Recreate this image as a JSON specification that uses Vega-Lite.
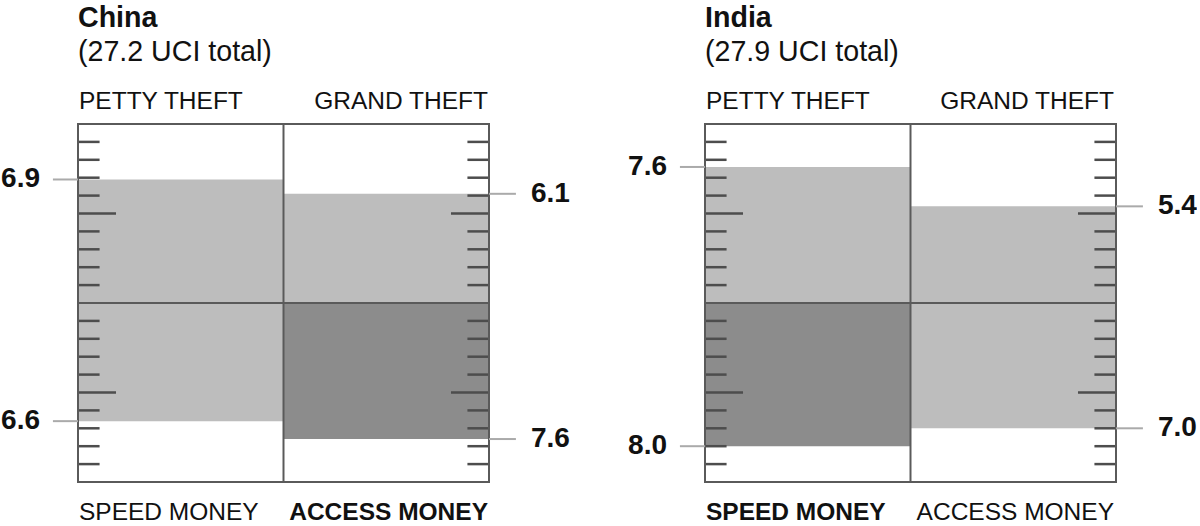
{
  "$schema": "https://vega.github.io/schema/vega-lite/v6.json",
  "background": "white",
  "padding": {"left": 1, "top": 3, "right": 0, "bottom": 0},
  "columns": 2,
  "spacing": {"row": 0, "column": 216},
  "bounds": "flush",
  "config": {
    "view": {"stroke": null},
    "axis": {"disable": true},
    "font": "Liberation Sans",
    "text": {"font": "Liberation Sans", "color": "#111111"},
    "title": {"anchor": "start", "frame": "group", "font": "Liberation Sans", "fontSize": 28.6, "fontWeight": "bold", "color": "#111111", "subtitleFont": "Liberation Sans", "subtitleFontSize": 28.6, "subtitleFontWeight": "normal", "subtitleColor": "#111111", "subtitlePadding": 6, "offset": 22}
  },
  "datasets": {
    "bars": [
      {"country": "China", "quadrant": "PETTY THEFT", "half": "top", "side": "left", "value": 6.9, "focus": false},
      {"country": "China", "quadrant": "GRAND THEFT", "half": "top", "side": "right", "value": 6.1, "focus": false},
      {"country": "China", "quadrant": "SPEED MONEY", "half": "bottom", "side": "left", "value": 6.6, "focus": false},
      {"country": "China", "quadrant": "ACCESS MONEY", "half": "bottom", "side": "right", "value": 7.6, "focus": true},
      {"country": "India", "quadrant": "PETTY THEFT", "half": "top", "side": "left", "value": 7.6, "focus": false},
      {"country": "India", "quadrant": "GRAND THEFT", "half": "top", "side": "right", "value": 5.4, "focus": false},
      {"country": "India", "quadrant": "SPEED MONEY", "half": "bottom", "side": "left", "value": 8.0, "focus": true},
      {"country": "India", "quadrant": "ACCESS MONEY", "half": "bottom", "side": "right", "value": 7.0, "focus": false}
    ],
    "ticks": [
      {"t": 1, "kind": "minor"}, {"t": 2, "kind": "minor"}, {"t": 3, "kind": "minor"}, {"t": 4, "kind": "minor"},
      {"t": 5, "kind": "major"},
      {"t": 6, "kind": "minor"}, {"t": 7, "kind": "minor"}, {"t": 8, "kind": "minor"}, {"t": 9, "kind": "minor"}
    ],
    "frame": [{}]
  },
  "concat": [
    {
      "width": 411, "height": 179,
      "title": {"text": "China", "subtitle": "(27.2 UCI total)"},
      "layer": [
        {"data": {"name": "bars"}, "transform": [{"filter": "datum.country === 'China' && datum.half === 'top' && datum.side === 'left'"}],
         "mark": {"type": "rect"},
         "encoding": {"x": {"datum": 0, "type": "quantitative", "scale": {"domain": [0, 2], "nice": false, "zero": false}}, "x2": {"datum": 1},
           "y": {"field": "value", "type": "quantitative", "scale": {"domain": [0, 10], "nice": false, "zero": false}}, "y2": {"datum": 0},
           "color": {"condition": {"test": "datum.focus", "value": "#8c8c8c"}, "value": "#bdbdbd"}}},
        {"data": {"name": "bars"}, "transform": [{"filter": "datum.country === 'China' && datum.half === 'top' && datum.side === 'right'"}],
         "mark": {"type": "rect"},
         "encoding": {"x": {"datum": 1, "type": "quantitative", "scale": {"domain": [0, 2], "nice": false, "zero": false}}, "x2": {"datum": 2},
           "y": {"field": "value", "type": "quantitative", "scale": {"domain": [0, 10], "nice": false, "zero": false}}, "y2": {"datum": 0},
           "color": {"condition": {"test": "datum.focus", "value": "#8c8c8c"}, "value": "#bdbdbd"}}},
        {"data": {"name": "ticks"}, "transform": [{"filter": "datum.kind === 'minor'"}],
         "mark": {"type": "rule", "color": "#4d4d4d", "strokeWidth": 2.5},
         "encoding": {"x": {"datum": 0, "type": "quantitative", "scale": {"domain": [0, 2], "nice": false, "zero": false}}, "x2": {"datum": 0.105},
           "y": {"field": "t", "type": "quantitative", "scale": {"domain": [0, 10], "nice": false, "zero": false}}}},
        {"data": {"name": "ticks"}, "transform": [{"filter": "datum.kind === 'major'"}],
         "mark": {"type": "rule", "color": "#4d4d4d", "strokeWidth": 2.5},
         "encoding": {"x": {"datum": 0, "type": "quantitative", "scale": {"domain": [0, 2], "nice": false, "zero": false}}, "x2": {"datum": 0.185},
           "y": {"field": "t", "type": "quantitative", "scale": {"domain": [0, 10], "nice": false, "zero": false}}}},
        {"data": {"name": "ticks"}, "transform": [{"filter": "datum.kind === 'minor'"}],
         "mark": {"type": "rule", "color": "#4d4d4d", "strokeWidth": 2.5},
         "encoding": {"x": {"datum": 1.895, "type": "quantitative", "scale": {"domain": [0, 2], "nice": false, "zero": false}}, "x2": {"datum": 2},
           "y": {"field": "t", "type": "quantitative", "scale": {"domain": [0, 10], "nice": false, "zero": false}}}},
        {"data": {"name": "ticks"}, "transform": [{"filter": "datum.kind === 'major'"}],
         "mark": {"type": "rule", "color": "#4d4d4d", "strokeWidth": 2.5},
         "encoding": {"x": {"datum": 1.815, "type": "quantitative", "scale": {"domain": [0, 2], "nice": false, "zero": false}}, "x2": {"datum": 2},
           "y": {"field": "t", "type": "quantitative", "scale": {"domain": [0, 10], "nice": false, "zero": false}}}},
        {"data": {"name": "frame"},
         "mark": {"type": "rule", "color": "#5a5a5a", "strokeWidth": 2},
         "encoding": {"x": {"datum": 1, "type": "quantitative", "scale": {"domain": [0, 2], "nice": false, "zero": false}},
           "y": {"datum": 0, "type": "quantitative", "scale": {"domain": [0, 10], "nice": false, "zero": false}}, "y2": {"datum": 10}}},
        {"data": {"name": "frame"},
         "mark": {"type": "rect", "filled": false, "stroke": "#5a5a5a", "strokeWidth": 2},
         "encoding": {"x": {"datum": 0, "type": "quantitative", "scale": {"domain": [0, 2], "nice": false, "zero": false}}, "x2": {"datum": 2},
           "y": {"datum": 0, "type": "quantitative", "scale": {"domain": [0, 10], "nice": false, "zero": false}}, "y2": {"datum": 10}}},
        {"data": {"name": "bars"}, "transform": [{"filter": "datum.country === 'China' && datum.half === 'top' && datum.side === 'left'"}],
         "mark": {"type": "rule", "color": "#aaaaaa", "strokeWidth": 2},
         "encoding": {"x": {"datum": -0.122, "type": "quantitative", "scale": {"domain": [0, 2], "nice": false, "zero": false}}, "x2": {"datum": 0},
           "y": {"field": "value", "type": "quantitative", "scale": {"domain": [0, 10], "nice": false, "zero": false}}}},
        {"data": {"name": "bars"}, "transform": [{"filter": "datum.country === 'China' && datum.half === 'top' && datum.side === 'right'"}],
         "mark": {"type": "rule", "color": "#aaaaaa", "strokeWidth": 2},
         "encoding": {"x": {"datum": 2, "type": "quantitative", "scale": {"domain": [0, 2], "nice": false, "zero": false}}, "x2": {"datum": 2.131},
           "y": {"field": "value", "type": "quantitative", "scale": {"domain": [0, 10], "nice": false, "zero": false}}}},
        {"data": {"name": "bars"}, "transform": [{"filter": "datum.country === 'China' && datum.half === 'top' && datum.side === 'left'"}],
         "mark": {"type": "text", "align": "right", "baseline": "middle", "dx": -38, "fontSize": 28, "fontWeight": "bold"},
         "encoding": {"x": {"datum": 0, "type": "quantitative", "scale": {"domain": [0, 2], "nice": false, "zero": false}},
           "y": {"field": "value", "type": "quantitative", "scale": {"domain": [0, 10], "nice": false, "zero": false}},
           "text": {"field": "value", "type": "quantitative", "format": ".1f"}}},
        {"data": {"name": "bars"}, "transform": [{"filter": "datum.country === 'China' && datum.half === 'top' && datum.side === 'right'"}],
         "mark": {"type": "text", "align": "left", "baseline": "middle", "dx": 42, "fontSize": 28, "fontWeight": "bold"},
         "encoding": {"x": {"datum": 2, "type": "quantitative", "scale": {"domain": [0, 2], "nice": false, "zero": false}},
           "y": {"field": "value", "type": "quantitative", "scale": {"domain": [0, 10], "nice": false, "zero": false}},
           "text": {"field": "value", "type": "quantitative", "format": ".1f"}}},
        {"data": {"name": "bars"}, "transform": [{"filter": "datum.country === 'China' && datum.half === 'top' && datum.side === 'left'"}],
         "mark": {"type": "text", "align": "left", "baseline": "alphabetic", "dx": 1, "dy": -15, "fontSize": 24.5, "fontWeight": {"expr": "datum.focus ? 'bold' : 'normal'"}},
         "encoding": {"x": {"datum": 0, "type": "quantitative", "scale": {"domain": [0, 2], "nice": false, "zero": false}},
           "y": {"datum": 10, "type": "quantitative", "scale": {"domain": [0, 10], "nice": false, "zero": false}},
           "text": {"field": "quadrant", "type": "nominal"}}},
        {"data": {"name": "bars"}, "transform": [{"filter": "datum.country === 'China' && datum.half === 'top' && datum.side === 'right'"}],
         "mark": {"type": "text", "align": "right", "baseline": "alphabetic", "dx": -1, "dy": -15, "fontSize": 24.5, "fontWeight": {"expr": "datum.focus ? 'bold' : 'normal'"}},
         "encoding": {"x": {"datum": 2, "type": "quantitative", "scale": {"domain": [0, 2], "nice": false, "zero": false}},
           "y": {"datum": 10, "type": "quantitative", "scale": {"domain": [0, 10], "nice": false, "zero": false}},
           "text": {"field": "quadrant", "type": "nominal"}}}
      ]
    },
    {
      "width": 411, "height": 179,
      "title": {"text": "India", "subtitle": "(27.9 UCI total)"},
      "layer": [
        {"data": {"name": "bars"}, "transform": [{"filter": "datum.country === 'India' && datum.half === 'top' && datum.side === 'left'"}],
         "mark": {"type": "rect"},
         "encoding": {"x": {"datum": 0, "type": "quantitative", "scale": {"domain": [0, 2], "nice": false, "zero": false}}, "x2": {"datum": 1},
           "y": {"field": "value", "type": "quantitative", "scale": {"domain": [0, 10], "nice": false, "zero": false}}, "y2": {"datum": 0},
           "color": {"condition": {"test": "datum.focus", "value": "#8c8c8c"}, "value": "#bdbdbd"}}},
        {"data": {"name": "bars"}, "transform": [{"filter": "datum.country === 'India' && datum.half === 'top' && datum.side === 'right'"}],
         "mark": {"type": "rect"},
         "encoding": {"x": {"datum": 1, "type": "quantitative", "scale": {"domain": [0, 2], "nice": false, "zero": false}}, "x2": {"datum": 2},
           "y": {"field": "value", "type": "quantitative", "scale": {"domain": [0, 10], "nice": false, "zero": false}}, "y2": {"datum": 0},
           "color": {"condition": {"test": "datum.focus", "value": "#8c8c8c"}, "value": "#bdbdbd"}}},
        {"data": {"name": "ticks"}, "transform": [{"filter": "datum.kind === 'minor'"}],
         "mark": {"type": "rule", "color": "#4d4d4d", "strokeWidth": 2.5},
         "encoding": {"x": {"datum": 0, "type": "quantitative", "scale": {"domain": [0, 2], "nice": false, "zero": false}}, "x2": {"datum": 0.105},
           "y": {"field": "t", "type": "quantitative", "scale": {"domain": [0, 10], "nice": false, "zero": false}}}},
        {"data": {"name": "ticks"}, "transform": [{"filter": "datum.kind === 'major'"}],
         "mark": {"type": "rule", "color": "#4d4d4d", "strokeWidth": 2.5},
         "encoding": {"x": {"datum": 0, "type": "quantitative", "scale": {"domain": [0, 2], "nice": false, "zero": false}}, "x2": {"datum": 0.185},
           "y": {"field": "t", "type": "quantitative", "scale": {"domain": [0, 10], "nice": false, "zero": false}}}},
        {"data": {"name": "ticks"}, "transform": [{"filter": "datum.kind === 'minor'"}],
         "mark": {"type": "rule", "color": "#4d4d4d", "strokeWidth": 2.5},
         "encoding": {"x": {"datum": 1.895, "type": "quantitative", "scale": {"domain": [0, 2], "nice": false, "zero": false}}, "x2": {"datum": 2},
           "y": {"field": "t", "type": "quantitative", "scale": {"domain": [0, 10], "nice": false, "zero": false}}}},
        {"data": {"name": "ticks"}, "transform": [{"filter": "datum.kind === 'major'"}],
         "mark": {"type": "rule", "color": "#4d4d4d", "strokeWidth": 2.5},
         "encoding": {"x": {"datum": 1.815, "type": "quantitative", "scale": {"domain": [0, 2], "nice": false, "zero": false}}, "x2": {"datum": 2},
           "y": {"field": "t", "type": "quantitative", "scale": {"domain": [0, 10], "nice": false, "zero": false}}}},
        {"data": {"name": "frame"},
         "mark": {"type": "rule", "color": "#5a5a5a", "strokeWidth": 2},
         "encoding": {"x": {"datum": 1, "type": "quantitative", "scale": {"domain": [0, 2], "nice": false, "zero": false}},
           "y": {"datum": 0, "type": "quantitative", "scale": {"domain": [0, 10], "nice": false, "zero": false}}, "y2": {"datum": 10}}},
        {"data": {"name": "frame"},
         "mark": {"type": "rect", "filled": false, "stroke": "#5a5a5a", "strokeWidth": 2},
         "encoding": {"x": {"datum": 0, "type": "quantitative", "scale": {"domain": [0, 2], "nice": false, "zero": false}}, "x2": {"datum": 2},
           "y": {"datum": 0, "type": "quantitative", "scale": {"domain": [0, 10], "nice": false, "zero": false}}, "y2": {"datum": 10}}},
        {"data": {"name": "bars"}, "transform": [{"filter": "datum.country === 'India' && datum.half === 'top' && datum.side === 'left'"}],
         "mark": {"type": "rule", "color": "#aaaaaa", "strokeWidth": 2},
         "encoding": {"x": {"datum": -0.122, "type": "quantitative", "scale": {"domain": [0, 2], "nice": false, "zero": false}}, "x2": {"datum": 0},
           "y": {"field": "value", "type": "quantitative", "scale": {"domain": [0, 10], "nice": false, "zero": false}}}},
        {"data": {"name": "bars"}, "transform": [{"filter": "datum.country === 'India' && datum.half === 'top' && datum.side === 'right'"}],
         "mark": {"type": "rule", "color": "#aaaaaa", "strokeWidth": 2},
         "encoding": {"x": {"datum": 2, "type": "quantitative", "scale": {"domain": [0, 2], "nice": false, "zero": false}}, "x2": {"datum": 2.131},
           "y": {"field": "value", "type": "quantitative", "scale": {"domain": [0, 10], "nice": false, "zero": false}}}},
        {"data": {"name": "bars"}, "transform": [{"filter": "datum.country === 'India' && datum.half === 'top' && datum.side === 'left'"}],
         "mark": {"type": "text", "align": "right", "baseline": "middle", "dx": -38, "fontSize": 28, "fontWeight": "bold"},
         "encoding": {"x": {"datum": 0, "type": "quantitative", "scale": {"domain": [0, 2], "nice": false, "zero": false}},
           "y": {"field": "value", "type": "quantitative", "scale": {"domain": [0, 10], "nice": false, "zero": false}},
           "text": {"field": "value", "type": "quantitative", "format": ".1f"}}},
        {"data": {"name": "bars"}, "transform": [{"filter": "datum.country === 'India' && datum.half === 'top' && datum.side === 'right'"}],
         "mark": {"type": "text", "align": "left", "baseline": "middle", "dx": 42, "fontSize": 28, "fontWeight": "bold"},
         "encoding": {"x": {"datum": 2, "type": "quantitative", "scale": {"domain": [0, 2], "nice": false, "zero": false}},
           "y": {"field": "value", "type": "quantitative", "scale": {"domain": [0, 10], "nice": false, "zero": false}},
           "text": {"field": "value", "type": "quantitative", "format": ".1f"}}},
        {"data": {"name": "bars"}, "transform": [{"filter": "datum.country === 'India' && datum.half === 'top' && datum.side === 'left'"}],
         "mark": {"type": "text", "align": "left", "baseline": "alphabetic", "dx": 1, "dy": -15, "fontSize": 24.5, "fontWeight": {"expr": "datum.focus ? 'bold' : 'normal'"}},
         "encoding": {"x": {"datum": 0, "type": "quantitative", "scale": {"domain": [0, 2], "nice": false, "zero": false}},
           "y": {"datum": 10, "type": "quantitative", "scale": {"domain": [0, 10], "nice": false, "zero": false}},
           "text": {"field": "quadrant", "type": "nominal"}}},
        {"data": {"name": "bars"}, "transform": [{"filter": "datum.country === 'India' && datum.half === 'top' && datum.side === 'right'"}],
         "mark": {"type": "text", "align": "right", "baseline": "alphabetic", "dx": -2, "dy": -15, "fontSize": 24.5, "fontWeight": {"expr": "datum.focus ? 'bold' : 'normal'"}},
         "encoding": {"x": {"datum": 2, "type": "quantitative", "scale": {"domain": [0, 2], "nice": false, "zero": false}},
           "y": {"datum": 10, "type": "quantitative", "scale": {"domain": [0, 10], "nice": false, "zero": false}},
           "text": {"field": "quadrant", "type": "nominal"}}}
      ]
    },
    {
      "width": 411, "height": 179,
      "layer": [
        {"data": {"name": "bars"}, "transform": [{"filter": "datum.country === 'China' && datum.half === 'bottom' && datum.side === 'left'"}],
         "mark": {"type": "rect"},
         "encoding": {"x": {"datum": 0, "type": "quantitative", "scale": {"domain": [0, 2], "nice": false, "zero": false}}, "x2": {"datum": 1},
           "y": {"field": "value", "type": "quantitative", "scale": {"domain": [0, 10], "nice": false, "zero": false, "reverse": true}}, "y2": {"datum": 0},
           "color": {"condition": {"test": "datum.focus", "value": "#8c8c8c"}, "value": "#bdbdbd"}}},
        {"data": {"name": "bars"}, "transform": [{"filter": "datum.country === 'China' && datum.half === 'bottom' && datum.side === 'right'"}],
         "mark": {"type": "rect"},
         "encoding": {"x": {"datum": 1, "type": "quantitative", "scale": {"domain": [0, 2], "nice": false, "zero": false}}, "x2": {"datum": 2},
           "y": {"field": "value", "type": "quantitative", "scale": {"domain": [0, 10], "nice": false, "zero": false, "reverse": true}}, "y2": {"datum": 0},
           "color": {"condition": {"test": "datum.focus", "value": "#8c8c8c"}, "value": "#bdbdbd"}}},
        {"data": {"name": "ticks"}, "transform": [{"filter": "datum.kind === 'minor'"}],
         "mark": {"type": "rule", "color": "#4d4d4d", "strokeWidth": 2.5},
         "encoding": {"x": {"datum": 0, "type": "quantitative", "scale": {"domain": [0, 2], "nice": false, "zero": false}}, "x2": {"datum": 0.105},
           "y": {"field": "t", "type": "quantitative", "scale": {"domain": [0, 10], "nice": false, "zero": false, "reverse": true}}}},
        {"data": {"name": "ticks"}, "transform": [{"filter": "datum.kind === 'major'"}],
         "mark": {"type": "rule", "color": "#4d4d4d", "strokeWidth": 2.5},
         "encoding": {"x": {"datum": 0, "type": "quantitative", "scale": {"domain": [0, 2], "nice": false, "zero": false}}, "x2": {"datum": 0.185},
           "y": {"field": "t", "type": "quantitative", "scale": {"domain": [0, 10], "nice": false, "zero": false, "reverse": true}}}},
        {"data": {"name": "ticks"}, "transform": [{"filter": "datum.kind === 'minor'"}],
         "mark": {"type": "rule", "color": "#4d4d4d", "strokeWidth": 2.5},
         "encoding": {"x": {"datum": 1.895, "type": "quantitative", "scale": {"domain": [0, 2], "nice": false, "zero": false}}, "x2": {"datum": 2},
           "y": {"field": "t", "type": "quantitative", "scale": {"domain": [0, 10], "nice": false, "zero": false, "reverse": true}}}},
        {"data": {"name": "ticks"}, "transform": [{"filter": "datum.kind === 'major'"}],
         "mark": {"type": "rule", "color": "#4d4d4d", "strokeWidth": 2.5},
         "encoding": {"x": {"datum": 1.815, "type": "quantitative", "scale": {"domain": [0, 2], "nice": false, "zero": false}}, "x2": {"datum": 2},
           "y": {"field": "t", "type": "quantitative", "scale": {"domain": [0, 10], "nice": false, "zero": false, "reverse": true}}}},
        {"data": {"name": "frame"},
         "mark": {"type": "rule", "color": "#5a5a5a", "strokeWidth": 2},
         "encoding": {"x": {"datum": 1, "type": "quantitative", "scale": {"domain": [0, 2], "nice": false, "zero": false}},
           "y": {"datum": 0, "type": "quantitative", "scale": {"domain": [0, 10], "nice": false, "zero": false, "reverse": true}}, "y2": {"datum": 10}}},
        {"data": {"name": "frame"},
         "mark": {"type": "rect", "filled": false, "stroke": "#5a5a5a", "strokeWidth": 2},
         "encoding": {"x": {"datum": 0, "type": "quantitative", "scale": {"domain": [0, 2], "nice": false, "zero": false}}, "x2": {"datum": 2},
           "y": {"datum": 0, "type": "quantitative", "scale": {"domain": [0, 10], "nice": false, "zero": false, "reverse": true}}, "y2": {"datum": 10}}},
        {"data": {"name": "bars"}, "transform": [{"filter": "datum.country === 'China' && datum.half === 'bottom' && datum.side === 'left'"}],
         "mark": {"type": "rule", "color": "#aaaaaa", "strokeWidth": 2},
         "encoding": {"x": {"datum": -0.122, "type": "quantitative", "scale": {"domain": [0, 2], "nice": false, "zero": false}}, "x2": {"datum": 0},
           "y": {"field": "value", "type": "quantitative", "scale": {"domain": [0, 10], "nice": false, "zero": false, "reverse": true}}}},
        {"data": {"name": "bars"}, "transform": [{"filter": "datum.country === 'China' && datum.half === 'bottom' && datum.side === 'right'"}],
         "mark": {"type": "rule", "color": "#aaaaaa", "strokeWidth": 2},
         "encoding": {"x": {"datum": 2, "type": "quantitative", "scale": {"domain": [0, 2], "nice": false, "zero": false}}, "x2": {"datum": 2.131},
           "y": {"field": "value", "type": "quantitative", "scale": {"domain": [0, 10], "nice": false, "zero": false, "reverse": true}}}},
        {"data": {"name": "bars"}, "transform": [{"filter": "datum.country === 'China' && datum.half === 'bottom' && datum.side === 'left'"}],
         "mark": {"type": "text", "align": "right", "baseline": "middle", "dx": -38, "fontSize": 28, "fontWeight": "bold"},
         "encoding": {"x": {"datum": 0, "type": "quantitative", "scale": {"domain": [0, 2], "nice": false, "zero": false}},
           "y": {"field": "value", "type": "quantitative", "scale": {"domain": [0, 10], "nice": false, "zero": false, "reverse": true}},
           "text": {"field": "value", "type": "quantitative", "format": ".1f"}}},
        {"data": {"name": "bars"}, "transform": [{"filter": "datum.country === 'China' && datum.half === 'bottom' && datum.side === 'right'"}],
         "mark": {"type": "text", "align": "left", "baseline": "middle", "dx": 42, "fontSize": 28, "fontWeight": "bold"},
         "encoding": {"x": {"datum": 2, "type": "quantitative", "scale": {"domain": [0, 2], "nice": false, "zero": false}},
           "y": {"field": "value", "type": "quantitative", "scale": {"domain": [0, 10], "nice": false, "zero": false, "reverse": true}},
           "text": {"field": "value", "type": "quantitative", "format": ".1f"}}},
        {"data": {"name": "bars"}, "transform": [{"filter": "datum.country === 'China' && datum.half === 'bottom' && datum.side === 'left'"}],
         "mark": {"type": "text", "align": "left", "baseline": "alphabetic", "dx": 1, "dy": 38, "fontSize": 24.5, "fontWeight": {"expr": "datum.focus ? 'bold' : 'normal'"}},
         "encoding": {"x": {"datum": 0, "type": "quantitative", "scale": {"domain": [0, 2], "nice": false, "zero": false}},
           "y": {"datum": 10, "type": "quantitative", "scale": {"domain": [0, 10], "nice": false, "zero": false, "reverse": true}},
           "text": {"field": "quadrant", "type": "nominal"}}},
        {"data": {"name": "bars"}, "transform": [{"filter": "datum.country === 'China' && datum.half === 'bottom' && datum.side === 'right'"}],
         "mark": {"type": "text", "align": "right", "baseline": "alphabetic", "dx": -1, "dy": 38, "fontSize": 24.5, "fontWeight": {"expr": "datum.focus ? 'bold' : 'normal'"}},
         "encoding": {"x": {"datum": 2, "type": "quantitative", "scale": {"domain": [0, 2], "nice": false, "zero": false}},
           "y": {"datum": 10, "type": "quantitative", "scale": {"domain": [0, 10], "nice": false, "zero": false, "reverse": true}},
           "text": {"field": "quadrant", "type": "nominal"}}}
      ]
    },
    {
      "width": 411, "height": 179,
      "layer": [
        {"data": {"name": "bars"}, "transform": [{"filter": "datum.country === 'India' && datum.half === 'bottom' && datum.side === 'left'"}],
         "mark": {"type": "rect"},
         "encoding": {"x": {"datum": 0, "type": "quantitative", "scale": {"domain": [0, 2], "nice": false, "zero": false}}, "x2": {"datum": 1},
           "y": {"field": "value", "type": "quantitative", "scale": {"domain": [0, 10], "nice": false, "zero": false, "reverse": true}}, "y2": {"datum": 0},
           "color": {"condition": {"test": "datum.focus", "value": "#8c8c8c"}, "value": "#bdbdbd"}}},
        {"data": {"name": "bars"}, "transform": [{"filter": "datum.country === 'India' && datum.half === 'bottom' && datum.side === 'right'"}],
         "mark": {"type": "rect"},
         "encoding": {"x": {"datum": 1, "type": "quantitative", "scale": {"domain": [0, 2], "nice": false, "zero": false}}, "x2": {"datum": 2},
           "y": {"field": "value", "type": "quantitative", "scale": {"domain": [0, 10], "nice": false, "zero": false, "reverse": true}}, "y2": {"datum": 0},
           "color": {"condition": {"test": "datum.focus", "value": "#8c8c8c"}, "value": "#bdbdbd"}}},
        {"data": {"name": "ticks"}, "transform": [{"filter": "datum.kind === 'minor'"}],
         "mark": {"type": "rule", "color": "#4d4d4d", "strokeWidth": 2.5},
         "encoding": {"x": {"datum": 0, "type": "quantitative", "scale": {"domain": [0, 2], "nice": false, "zero": false}}, "x2": {"datum": 0.105},
           "y": {"field": "t", "type": "quantitative", "scale": {"domain": [0, 10], "nice": false, "zero": false, "reverse": true}}}},
        {"data": {"name": "ticks"}, "transform": [{"filter": "datum.kind === 'major'"}],
         "mark": {"type": "rule", "color": "#4d4d4d", "strokeWidth": 2.5},
         "encoding": {"x": {"datum": 0, "type": "quantitative", "scale": {"domain": [0, 2], "nice": false, "zero": false}}, "x2": {"datum": 0.185},
           "y": {"field": "t", "type": "quantitative", "scale": {"domain": [0, 10], "nice": false, "zero": false, "reverse": true}}}},
        {"data": {"name": "ticks"}, "transform": [{"filter": "datum.kind === 'minor'"}],
         "mark": {"type": "rule", "color": "#4d4d4d", "strokeWidth": 2.5},
         "encoding": {"x": {"datum": 1.895, "type": "quantitative", "scale": {"domain": [0, 2], "nice": false, "zero": false}}, "x2": {"datum": 2},
           "y": {"field": "t", "type": "quantitative", "scale": {"domain": [0, 10], "nice": false, "zero": false, "reverse": true}}}},
        {"data": {"name": "ticks"}, "transform": [{"filter": "datum.kind === 'major'"}],
         "mark": {"type": "rule", "color": "#4d4d4d", "strokeWidth": 2.5},
         "encoding": {"x": {"datum": 1.815, "type": "quantitative", "scale": {"domain": [0, 2], "nice": false, "zero": false}}, "x2": {"datum": 2},
           "y": {"field": "t", "type": "quantitative", "scale": {"domain": [0, 10], "nice": false, "zero": false, "reverse": true}}}},
        {"data": {"name": "frame"},
         "mark": {"type": "rule", "color": "#5a5a5a", "strokeWidth": 2},
         "encoding": {"x": {"datum": 1, "type": "quantitative", "scale": {"domain": [0, 2], "nice": false, "zero": false}},
           "y": {"datum": 0, "type": "quantitative", "scale": {"domain": [0, 10], "nice": false, "zero": false, "reverse": true}}, "y2": {"datum": 10}}},
        {"data": {"name": "frame"},
         "mark": {"type": "rect", "filled": false, "stroke": "#5a5a5a", "strokeWidth": 2},
         "encoding": {"x": {"datum": 0, "type": "quantitative", "scale": {"domain": [0, 2], "nice": false, "zero": false}}, "x2": {"datum": 2},
           "y": {"datum": 0, "type": "quantitative", "scale": {"domain": [0, 10], "nice": false, "zero": false, "reverse": true}}, "y2": {"datum": 10}}},
        {"data": {"name": "bars"}, "transform": [{"filter": "datum.country === 'India' && datum.half === 'bottom' && datum.side === 'left'"}],
         "mark": {"type": "rule", "color": "#aaaaaa", "strokeWidth": 2},
         "encoding": {"x": {"datum": -0.122, "type": "quantitative", "scale": {"domain": [0, 2], "nice": false, "zero": false}}, "x2": {"datum": 0},
           "y": {"field": "value", "type": "quantitative", "scale": {"domain": [0, 10], "nice": false, "zero": false, "reverse": true}}}},
        {"data": {"name": "bars"}, "transform": [{"filter": "datum.country === 'India' && datum.half === 'bottom' && datum.side === 'right'"}],
         "mark": {"type": "rule", "color": "#aaaaaa", "strokeWidth": 2},
         "encoding": {"x": {"datum": 2, "type": "quantitative", "scale": {"domain": [0, 2], "nice": false, "zero": false}}, "x2": {"datum": 2.131},
           "y": {"field": "value", "type": "quantitative", "scale": {"domain": [0, 10], "nice": false, "zero": false, "reverse": true}}}},
        {"data": {"name": "bars"}, "transform": [{"filter": "datum.country === 'India' && datum.half === 'bottom' && datum.side === 'left'"}],
         "mark": {"type": "text", "align": "right", "baseline": "middle", "dx": -38, "fontSize": 28, "fontWeight": "bold"},
         "encoding": {"x": {"datum": 0, "type": "quantitative", "scale": {"domain": [0, 2], "nice": false, "zero": false}},
           "y": {"field": "value", "type": "quantitative", "scale": {"domain": [0, 10], "nice": false, "zero": false, "reverse": true}},
           "text": {"field": "value", "type": "quantitative", "format": ".1f"}}},
        {"data": {"name": "bars"}, "transform": [{"filter": "datum.country === 'India' && datum.half === 'bottom' && datum.side === 'right'"}],
         "mark": {"type": "text", "align": "left", "baseline": "middle", "dx": 42, "fontSize": 28, "fontWeight": "bold"},
         "encoding": {"x": {"datum": 2, "type": "quantitative", "scale": {"domain": [0, 2], "nice": false, "zero": false}},
           "y": {"field": "value", "type": "quantitative", "scale": {"domain": [0, 10], "nice": false, "zero": false, "reverse": true}},
           "text": {"field": "value", "type": "quantitative", "format": ".1f"}}},
        {"data": {"name": "bars"}, "transform": [{"filter": "datum.country === 'India' && datum.half === 'bottom' && datum.side === 'left'"}],
         "mark": {"type": "text", "align": "left", "baseline": "alphabetic", "dx": 1, "dy": 38, "fontSize": 24.5, "fontWeight": {"expr": "datum.focus ? 'bold' : 'normal'"}},
         "encoding": {"x": {"datum": 0, "type": "quantitative", "scale": {"domain": [0, 2], "nice": false, "zero": false}},
           "y": {"datum": 10, "type": "quantitative", "scale": {"domain": [0, 10], "nice": false, "zero": false, "reverse": true}},
           "text": {"field": "quadrant", "type": "nominal"}}},
        {"data": {"name": "bars"}, "transform": [{"filter": "datum.country === 'India' && datum.half === 'bottom' && datum.side === 'right'"}],
         "mark": {"type": "text", "align": "right", "baseline": "alphabetic", "dx": -2, "dy": 38, "fontSize": 24.5, "fontWeight": {"expr": "datum.focus ? 'bold' : 'normal'"}},
         "encoding": {"x": {"datum": 2, "type": "quantitative", "scale": {"domain": [0, 2], "nice": false, "zero": false}},
           "y": {"datum": 10, "type": "quantitative", "scale": {"domain": [0, 10], "nice": false, "zero": false, "reverse": true}},
           "text": {"field": "quadrant", "type": "nominal"}}}
      ]
    }
  ]
}
